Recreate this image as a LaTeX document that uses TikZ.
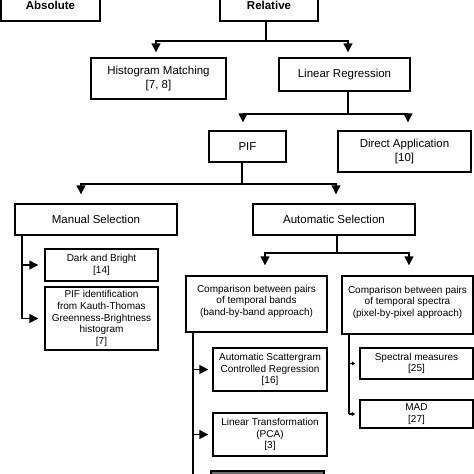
\documentclass[tikz,border=0pt]{standalone}
\usepackage{fontspec}
\setmainfont{Liberation Sans}
\usetikzlibrary{positioning,arrows.meta}

\begin{document}
\begin{tikzpicture}[
x=1pt,
y=-1pt,
line width=1.4pt,
arr/.style={-{Triangle[length=9pt,width=9pt]},shorten >=6pt},
tip/.style={-{Triangle[length=3.5pt,width=4pt]},line width=1.1pt,shorten >=4pt},
box/.style={
draw,
rectangle,
align=center,
inner sep=1pt,
font=\fontsize{11.5}{13.5}\selectfont
},
sbox/.style={
box,
font=\fontsize{10}{11.6}\selectfont
}
]

\useasboundingbox (0,0) rectangle (474,474);
\clip (0,0) rectangle (474,474);

% top level
\node[box,minimum width=99pt,minimum height=32pt,font=\fontsize{11.5}{13.5}\selectfont\bfseries] (abs) at (50.5,5) {Absolute};
\node[box,minimum width=98pt,minimum height=32pt,font=\fontsize{11.5}{13.5}\selectfont\bfseries] (rel) at (269,5) {Relative};

% relative methods
\node[box,minimum width=135pt,minimum height=41pt] (hist) at (158.5,78.5) {Histogram Matching\\{}[7, 8]};
\node[box,minimum width=131pt,minimum height=33pt] (linreg) at (344.5,74.5) {Linear Regression};

\node[box,minimum width=77pt,minimum height=31pt] (pif) at (247.5,146.5) {PIF};
\node[box,minimum width=133pt,minimum height=41pt] (direct) at (404.5,151.5) {Direct Application\\{}[10]};

\node[box,minimum width=162pt,minimum height=31pt] (manual) at (96,219.5) {Manual Selection};
\node[box,minimum width=162pt,minimum height=31pt] (auto) at (334,219.5) {Automatic Selection};

% manual selection
\node[sbox,minimum width=113pt,minimum height=32pt] (dark) at (101.5,265) {Dark and Bright\\{}[14]};
\node[sbox,minimum width=113pt,minimum height=63pt] (kauth) at (101.5,318.5) {PIF identification\\from Kauth-Thomas\\Greenness-Brightness\\histogram\\{}[7]};

% automatic selection
\node[sbox,minimum width=141pt,minimum height=56pt,text depth=8pt] (bands) at (256.5,304) {Comparison between pairs\\of temporal bands\\(band-by-band approach)};
\node[sbox,minimum width=131pt,minimum height=58pt,text depth=8pt] (spectra) at (407.5,305) {Comparison between pairs\\of temporal spectra\\(pixel-by-pixel approach)};

\node[sbox,minimum width=114pt,minimum height=43pt] (ascr) at (270,369.5) {Automatic Scattergram\\Controlled Regression\\{}[16]};
\node[sbox,minimum width=114pt,minimum height=43pt] (lintr) at (270,434.5) {Linear Transformation\\(PCA)\\{}[3]};
\node[box,minimum width=113pt,minimum height=40pt,fill=black!58] (grey) at (267.5,491) {};

\node[sbox,minimum width=113pt,minimum height=31pt] (specm) at (416.5,363.5) {Spectral measures\\{}[25]};
\node[sbox,minimum width=113pt,minimum height=28pt] (mad) at (416.5,414) {MAD\\{}[27]};

% junctions
\coordinate (j1) at (266,41);
\coordinate (j2) at (348,114);
\coordinate (j3) at (242,184);
\coordinate (j4) at (337,253);
\coordinate (ms) at (22,235);
\coordinate (bs) at (193,332);
\coordinate (ss) at (349,334);

\draw (j1 |- rel.south) -- (j1);
\draw[arr,shorten >=5pt] (j1) -| ([xshift=-2.5pt]hist.north);
\draw[arr,shorten >=5pt] (j1) -| ([xshift=3.5pt]linreg.north);

\draw (j2 |- linreg.south) -- (j2);
\draw[arr,shorten >=8pt] (j2) -| ([xshift=-4.5pt]pif.north);
\draw[arr,shorten >=8pt] (j2) -| ([xshift=3.5pt]direct.north);

\draw (j3 |- pif.south) -- (j3);
\draw[arr,shorten >=9pt] (j3) -| ([xshift=-15pt]manual.north);
\draw[arr,shorten >=9pt] (j3) -| ([xshift=2pt]auto.north);

\draw[arr] (ms) |- (dark);
\draw[arr] (ms) |- (kauth);

\draw (j4 |- auto.south) -- (j4);
\draw[arr,shorten >=10pt] (j4) -| ([xshift=8.5pt]bands.north);
\draw[arr,shorten >=10pt] (j4) -| ([xshift=1.5pt]spectra.north);

\draw[arr,shorten >=4pt] (bs) |- (ascr);
\draw[arr,shorten >=4pt] (bs) |- (lintr);
\draw[arr,shorten >=4pt] (bs) |- (grey);

\draw (ss) -- (ss |- mad.west);
\draw[tip] (ss |- specm.west) -- (specm.west);
\draw[tip] (ss |- mad.west) -- (mad.west);

\end{tikzpicture}
\end{document}
